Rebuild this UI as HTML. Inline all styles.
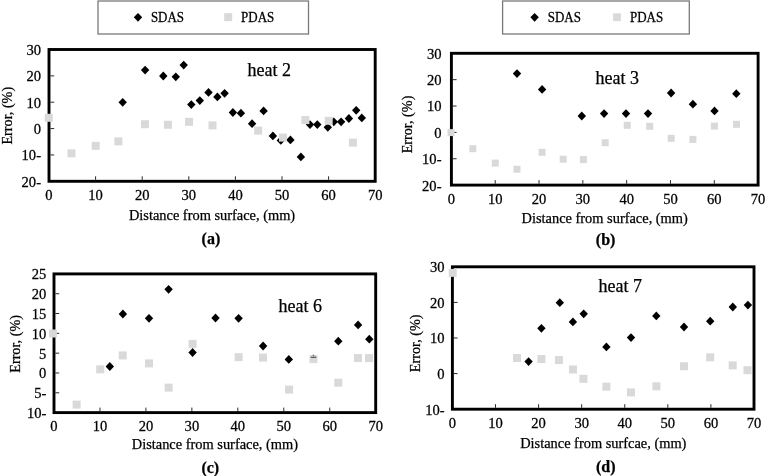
<!DOCTYPE html><html><head><meta charset="utf-8"><title>SDAS / PDAS error</title><style>html,body{margin:0;padding:0;background:#fff;}svg{display:block;}text{font-family:"Liberation Serif", "Times New Roman", serif;fill:#000;stroke:#000;stroke-width:0.25px;}</style></head><body>
<svg width="767" height="476" viewBox="0 0 767 476">
<rect width="767" height="476" fill="#fff"/>
<rect x="98" y="1" width="210.5" height="33" fill="none" stroke="#7a7a7a" stroke-width="1.3"/><g fill="#000"><path d="M138 12.9L142.2 17.3L138 21.7L133.8 17.3Z"/></g><text transform="translate(150.9 21.7) scale(1 1.085)" font-size="13">SDAS</text><g fill="#d9d9d9"><rect x="224.2" y="13.2" width="8" height="8"/></g><text transform="translate(241.1 21.7) scale(1 1.085)" font-size="13">PDAS</text>
<rect x="502.6" y="1" width="186.7" height="33" fill="none" stroke="#7a7a7a" stroke-width="1.3"/><g fill="#000"><path d="M534.6 12.9L538.8 17.3L534.6 21.7L530.4 17.3Z"/></g><text transform="translate(547.7 21.7) scale(1 1.085)" font-size="13">SDAS</text><g fill="#d9d9d9"><rect x="613.1" y="13.3" width="7.8" height="7.8"/></g><text transform="translate(630 21.7) scale(1 1.085)" font-size="13">PDAS</text>
<path d="M50.4 154.94h3.8M50.4 128.58h3.8M50.4 102.22h3.8M50.4 75.86h3.8M95.6 179.9v-3.6M142.2 179.9v-3.6M188.8 179.9v-3.6M235.4 179.9v-3.6M282 179.9v-3.6M328.6 179.9v-3.6" stroke="#2a2a2a" stroke-width="1" fill="none"/><rect x="49" y="49.5" width="326.2" height="131.8" fill="none" stroke="#000" stroke-width="2.9"/><text transform="translate(41 186.75) scale(1.04 1)" font-size="14" text-anchor="end">20-</text><text transform="translate(41 160.39) scale(1.04 1)" font-size="14" text-anchor="end">10-</text><text transform="translate(41 134.03) scale(1.04 1)" font-size="14" text-anchor="end">0</text><text transform="translate(41 107.67) scale(1.04 1)" font-size="14" text-anchor="end">10</text><text transform="translate(41 81.31) scale(1.04 1)" font-size="14" text-anchor="end">20</text><text transform="translate(41 54.95) scale(1.04 1)" font-size="14" text-anchor="end">30</text><text transform="translate(49 199.8) scale(1.04 1)" font-size="14" text-anchor="middle">0</text><text transform="translate(95.6 199.8) scale(1.04 1)" font-size="14" text-anchor="middle">10</text><text transform="translate(142.2 199.8) scale(1.04 1)" font-size="14" text-anchor="middle">20</text><text transform="translate(188.8 199.8) scale(1.04 1)" font-size="14" text-anchor="middle">30</text><text transform="translate(235.4 199.8) scale(1.04 1)" font-size="14" text-anchor="middle">40</text><text transform="translate(282 199.8) scale(1.04 1)" font-size="14" text-anchor="middle">50</text><text transform="translate(328.6 199.8) scale(1.04 1)" font-size="14" text-anchor="middle">60</text><text transform="translate(375.2 199.8) scale(1.04 1)" font-size="14" text-anchor="middle">70</text><text x="212.05" y="219.8" font-size="14.4" text-anchor="middle">Distance from surface, (mm)</text><text transform="translate(11.9 115.7) rotate(-90)" font-size="14.2" text-anchor="middle">Error, (%)</text><text x="247.5" y="76.1" font-size="18">heat 2</text><text x="201.6" y="243.5" font-size="16" font-weight="bold">(a)</text><g fill="#000"><path d="M122.7 97.9L126.9 102.3L122.7 106.7L118.5 102.3Z"/><path d="M145.1 65.7L149.3 70.1L145.1 74.5L140.9 70.1Z"/><path d="M163.3 71.6L167.5 76L163.3 80.4L159.1 76Z"/><path d="M175.8 72.4L180 76.8L175.8 81.2L171.6 76.8Z"/><path d="M183.7 60.7L187.9 65.1L183.7 69.5L179.5 65.1Z"/><path d="M191.3 100.2L195.5 104.6L191.3 109L187.1 104.6Z"/><path d="M199.8 96.2L204 100.6L199.8 105L195.6 100.6Z"/><path d="M208.5 88L212.7 92.4L208.5 96.8L204.3 92.4Z"/><path d="M217.4 92.5L221.6 96.9L217.4 101.3L213.2 96.9Z"/><path d="M224.6 88.9L228.8 93.3L224.6 97.7L220.4 93.3Z"/><path d="M232.9 108.1L237.1 112.5L232.9 116.9L228.7 112.5Z"/><path d="M240.9 108.8L245.1 113.2L240.9 117.6L236.7 113.2Z"/><path d="M252.1 119.3L256.3 123.7L252.1 128.1L247.9 123.7Z"/><path d="M263.6 106.5L267.8 110.9L263.6 115.3L259.4 110.9Z"/><path d="M272.9 131.5L277.1 135.9L272.9 140.3L268.7 135.9Z"/><path d="M280.8 136L285 140.4L280.8 144.8L276.6 140.4Z"/><path d="M290.4 135.5L294.6 139.9L290.4 144.3L286.2 139.9Z"/><path d="M300.9 152.5L305.1 156.9L300.9 161.3L296.7 156.9Z"/><path d="M310 120.2L314.2 124.6L310 129L305.8 124.6Z"/><path d="M317.3 120.2L321.5 124.6L317.3 129L313.1 124.6Z"/><path d="M327.8 122.9L332 127.3L327.8 131.7L323.6 127.3Z"/><path d="M333.8 117.4L338 121.8L333.8 126.2L329.6 121.8Z"/><path d="M341.1 117.4L345.3 121.8L341.1 126.2L336.9 121.8Z"/><path d="M348.9 114.1L353.1 118.5L348.9 122.9L344.7 118.5Z"/><path d="M356.2 105.9L360.4 110.3L356.2 114.7L352 110.3Z"/><path d="M361.8 113.5L366 117.9L361.8 122.3L357.6 117.9Z"/></g><g fill="#d9d9d9"><rect x="44.7" y="113.8" width="8" height="8"/><rect x="67.5" y="149.3" width="8" height="8"/><rect x="91.7" y="141.8" width="8" height="8"/><rect x="114.4" y="137.4" width="8" height="8"/><rect x="141" y="120.2" width="8" height="8"/><rect x="163.9" y="120.8" width="8" height="8"/><rect x="185" y="117.8" width="8" height="8"/><rect x="208.5" y="121.4" width="8" height="8"/><rect x="254.2" y="126.6" width="8" height="8"/><rect x="279" y="133.6" width="8" height="8"/><rect x="301.4" y="116.1" width="8" height="8"/><rect x="324.7" y="116.8" width="8" height="8"/><rect x="349" y="138.6" width="8" height="8"/></g>
<path d="M452.8 158.74h3.8M452.8 132.38h3.8M452.8 106.02h3.8M452.8 79.66h3.8M495.21 183.7v-3.6M539.03 183.7v-3.6M582.84 183.7v-3.6M626.66 183.7v-3.6M670.47 183.7v-3.6M714.29 183.7v-3.6" stroke="#2a2a2a" stroke-width="1" fill="none"/><rect x="451.4" y="53.3" width="306.7" height="131.8" fill="none" stroke="#000" stroke-width="2.9"/><text transform="translate(441.5 190.55) scale(1.04 1)" font-size="14" text-anchor="end">20-</text><text transform="translate(441.5 164.19) scale(1.04 1)" font-size="14" text-anchor="end">10-</text><text transform="translate(441.5 137.83) scale(1.04 1)" font-size="14" text-anchor="end">0</text><text transform="translate(441.5 111.47) scale(1.04 1)" font-size="14" text-anchor="end">10</text><text transform="translate(441.5 85.11) scale(1.04 1)" font-size="14" text-anchor="end">20</text><text transform="translate(441.5 58.75) scale(1.04 1)" font-size="14" text-anchor="end">30</text><text transform="translate(451.4 203.6) scale(1.04 1)" font-size="14" text-anchor="middle">0</text><text transform="translate(495.21 203.6) scale(1.04 1)" font-size="14" text-anchor="middle">10</text><text transform="translate(539.03 203.6) scale(1.04 1)" font-size="14" text-anchor="middle">20</text><text transform="translate(582.84 203.6) scale(1.04 1)" font-size="14" text-anchor="middle">30</text><text transform="translate(626.66 203.6) scale(1.04 1)" font-size="14" text-anchor="middle">40</text><text transform="translate(670.47 203.6) scale(1.04 1)" font-size="14" text-anchor="middle">50</text><text transform="translate(714.29 203.6) scale(1.04 1)" font-size="14" text-anchor="middle">60</text><text transform="translate(758.1 203.6) scale(1.04 1)" font-size="14" text-anchor="middle">70</text><text x="604.7" y="223.3" font-size="14.4" text-anchor="middle">Distance from surface, (mm)</text><text transform="translate(412.2 124.5) rotate(-90)" font-size="14.2" text-anchor="middle">Error, (%)</text><text x="595.6" y="84.1" font-size="18">heat 3</text><text x="595.8" y="244.5" font-size="16" font-weight="bold">(b)</text><g fill="#000"><path d="M517 69.2L521.2 73.6L517 78L512.8 73.6Z"/><path d="M542.1 85L546.3 89.4L542.1 93.8L537.9 89.4Z"/><path d="M581.8 111.6L586 116L581.8 120.4L577.6 116Z"/><path d="M604.1 109.2L608.3 113.6L604.1 118L599.9 113.6Z"/><path d="M626 109.2L630.2 113.6L626 118L621.8 113.6Z"/><path d="M648 109.2L652.2 113.6L648 118L643.8 113.6Z"/><path d="M671.1 88.6L675.3 93L671.1 97.4L666.9 93Z"/><path d="M692.9 99.8L697.1 104.2L692.9 108.6L688.7 104.2Z"/><path d="M714.5 106.5L718.7 110.9L714.5 115.3L710.3 110.9Z"/><path d="M736.3 89.3L740.5 93.7L736.3 98.1L732.1 93.7Z"/></g><g fill="#d9d9d9"><rect x="447.5" y="129.1" width="7" height="7"/><rect x="469.3" y="145.2" width="7" height="7"/><rect x="491.8" y="159.6" width="7" height="7"/><rect x="513.5" y="165.7" width="7" height="7"/><rect x="538.6" y="148.8" width="7" height="7"/><rect x="559.7" y="155.7" width="7" height="7"/><rect x="579.9" y="156.1" width="7" height="7"/><rect x="601.7" y="139.2" width="7" height="7"/><rect x="623.7" y="121.8" width="7" height="7"/><rect x="646.2" y="122.8" width="7" height="7"/><rect x="667.7" y="134.8" width="7" height="7"/><rect x="689.4" y="135.9" width="7" height="7"/><rect x="710.9" y="122.6" width="7" height="7"/><rect x="733" y="120.8" width="7" height="7"/></g>
<path d="M55.4 392.79h3.8M55.4 372.97h3.8M55.4 353.16h3.8M55.4 333.34h3.8M55.4 313.53h3.8M55.4 293.71h3.8M99.96 411.2v-3.6M145.91 411.2v-3.6M191.87 411.2v-3.6M237.83 411.2v-3.6M283.79 411.2v-3.6M329.74 411.2v-3.6" stroke="#2a2a2a" stroke-width="1" fill="none"/><rect x="54" y="273.9" width="321.7" height="138.7" fill="none" stroke="#000" stroke-width="2.9"/><text transform="translate(46.3 418.05) scale(1.04 1)" font-size="14" text-anchor="end">10-</text><text transform="translate(46.3 398.24) scale(1.04 1)" font-size="14" text-anchor="end">5-</text><text transform="translate(46.3 378.42) scale(1.04 1)" font-size="14" text-anchor="end">0</text><text transform="translate(46.3 358.61) scale(1.04 1)" font-size="14" text-anchor="end">5</text><text transform="translate(46.3 338.79) scale(1.04 1)" font-size="14" text-anchor="end">10</text><text transform="translate(46.3 318.98) scale(1.04 1)" font-size="14" text-anchor="end">15</text><text transform="translate(46.3 299.16) scale(1.04 1)" font-size="14" text-anchor="end">20</text><text transform="translate(46.3 279.35) scale(1.04 1)" font-size="14" text-anchor="end">25</text><text transform="translate(54 431.3) scale(1.04 1)" font-size="14" text-anchor="middle">0</text><text transform="translate(99.96 431.3) scale(1.04 1)" font-size="14" text-anchor="middle">10</text><text transform="translate(145.91 431.3) scale(1.04 1)" font-size="14" text-anchor="middle">20</text><text transform="translate(191.87 431.3) scale(1.04 1)" font-size="14" text-anchor="middle">30</text><text transform="translate(237.83 431.3) scale(1.04 1)" font-size="14" text-anchor="middle">40</text><text transform="translate(283.79 431.3) scale(1.04 1)" font-size="14" text-anchor="middle">50</text><text transform="translate(329.74 431.3) scale(1.04 1)" font-size="14" text-anchor="middle">60</text><text transform="translate(375.7 431.3) scale(1.04 1)" font-size="14" text-anchor="middle">70</text><text x="214.9" y="448.7" font-size="14.4" text-anchor="middle">Distance from surface, (mm)</text><text transform="translate(20.2 343.9) rotate(-90)" font-size="14.2" text-anchor="middle">Error, (%)</text><text x="278.6" y="312" font-size="18">heat 6</text><text x="201.4" y="472.5" font-size="16" font-weight="bold">(c)</text><g fill="#000"><path d="M109.8 362.1L114 366.5L109.8 370.9L105.6 366.5Z"/><path d="M122.9 309.6L127.1 314L122.9 318.4L118.7 314Z"/><path d="M149 313.9L153.2 318.3L149 322.7L144.8 318.3Z"/><path d="M168.6 284.9L172.8 289.3L168.6 293.7L164.4 289.3Z"/><path d="M192.6 348.1L196.8 352.5L192.6 356.9L188.4 352.5Z"/><path d="M215.5 313.6L219.7 318L215.5 322.4L211.3 318Z"/><path d="M238.6 313.9L242.8 318.3L238.6 322.7L234.4 318.3Z"/><path d="M263.1 341.6L267.3 346L263.1 350.4L258.9 346Z"/><path d="M288.8 355L293 359.4L288.8 363.8L284.6 359.4Z"/><path d="M338.3 336.8L342.5 341.2L338.3 345.6L334.1 341.2Z"/><path d="M358.1 320.5L362.3 324.9L358.1 329.3L353.9 324.9Z"/><path d="M369.3 334.8L373.5 339.2L369.3 343.6L365.1 339.2Z"/></g><g fill="#d9d9d9"><rect x="48.9" y="329.5" width="8" height="8"/><rect x="72.6" y="400.6" width="8" height="8"/><rect x="96.2" y="365.4" width="8" height="8"/><rect x="118.7" y="351.4" width="8" height="8"/><rect x="145" y="359.4" width="8" height="8"/><rect x="164.6" y="383.6" width="8" height="8"/><rect x="188.6" y="339.9" width="8" height="8"/><rect x="234.6" y="353.2" width="8" height="8"/><rect x="259" y="353.6" width="8" height="8"/><rect x="285.1" y="385.6" width="8" height="8"/><rect x="309.5" y="355.1" width="8" height="8"/><rect x="334.3" y="378.7" width="8" height="8"/><rect x="354" y="354.1" width="8" height="8"/><rect x="365" y="354.1" width="8" height="8"/></g><path d="M310.7 357.3H316.3" stroke="#5a5a5a" stroke-width="1.3"/><circle cx="313.5" cy="355.3" r="0.9" fill="#777"/>
<path d="M453.8 373.6h3.8M453.8 338h3.8M453.8 302.4h3.8M495.49 407.8v-3.6M538.57 407.8v-3.6M581.66 407.8v-3.6M624.74 407.8v-3.6M667.83 407.8v-3.6M710.91 407.8v-3.6" stroke="#2a2a2a" stroke-width="1" fill="none"/><rect x="452.4" y="266.8" width="301.6" height="142.4" fill="none" stroke="#000" stroke-width="2.9"/><text transform="translate(444.6 414.65) scale(1.04 1)" font-size="14" text-anchor="end">10-</text><text transform="translate(444.6 379.05) scale(1.04 1)" font-size="14" text-anchor="end">0</text><text transform="translate(444.6 343.45) scale(1.04 1)" font-size="14" text-anchor="end">10</text><text transform="translate(444.6 307.85) scale(1.04 1)" font-size="14" text-anchor="end">20</text><text transform="translate(444.6 272.25) scale(1.04 1)" font-size="14" text-anchor="end">30</text><text transform="translate(452.4 427.6) scale(1.04 1)" font-size="14" text-anchor="middle">0</text><text transform="translate(495.49 427.6) scale(1.04 1)" font-size="14" text-anchor="middle">10</text><text transform="translate(538.57 427.6) scale(1.04 1)" font-size="14" text-anchor="middle">20</text><text transform="translate(581.66 427.6) scale(1.04 1)" font-size="14" text-anchor="middle">30</text><text transform="translate(624.74 427.6) scale(1.04 1)" font-size="14" text-anchor="middle">40</text><text transform="translate(667.83 427.6) scale(1.04 1)" font-size="14" text-anchor="middle">50</text><text transform="translate(710.91 427.6) scale(1.04 1)" font-size="14" text-anchor="middle">60</text><text transform="translate(754 427.6) scale(1.04 1)" font-size="14" text-anchor="middle">70</text><text x="603.3" y="447.8" font-size="14.4" text-anchor="middle">Distance from surfcae, (mm)</text><text transform="translate(419.8 343.3) rotate(-90)" font-size="14.2" text-anchor="middle">Error, (%)</text><text x="598.5" y="291.5" font-size="18">heat 7</text><text x="596" y="471.8" font-size="16" font-weight="bold">(d)</text><g fill="#000"><path d="M528.6 357.2L532.8 361.6L528.6 366L524.4 361.6Z"/><path d="M541.4 323.9L545.6 328.3L541.4 332.7L537.2 328.3Z"/><path d="M559.8 298.3L564 302.7L559.8 307.1L555.6 302.7Z"/><path d="M572.9 317.5L577.1 321.9L572.9 326.3L568.7 321.9Z"/><path d="M583.7 309.4L587.9 313.8L583.7 318.2L579.5 313.8Z"/><path d="M606.4 342.5L610.6 346.9L606.4 351.3L602.2 346.9Z"/><path d="M631 333.2L635.2 337.6L631 342L626.8 337.6Z"/><path d="M656.3 311.5L660.5 315.9L656.3 320.3L652.1 315.9Z"/><path d="M684 322.6L688.2 327L684 331.4L679.8 327Z"/><path d="M710.2 316.8L714.4 321.2L710.2 325.6L706 321.2Z"/><path d="M732.8 302.6L737 307L732.8 311.4L728.6 307Z"/><path d="M747.9 300.7L752.1 305.1L747.9 309.5L743.7 305.1Z"/></g><g fill="#d9d9d9"><rect x="448.7" y="268.9" width="8" height="8"/><rect x="513" y="354" width="8" height="8"/><rect x="537.4" y="355.1" width="8" height="8"/><rect x="555" y="356.1" width="8" height="8"/><rect x="569" y="365.5" width="8" height="8"/><rect x="579.4" y="374.8" width="8" height="8"/><rect x="602.4" y="382.7" width="8" height="8"/><rect x="627" y="388.4" width="8" height="8"/><rect x="652.4" y="382.3" width="8" height="8"/><rect x="680" y="362.3" width="8" height="8"/><rect x="706.2" y="353.3" width="8" height="8"/><rect x="728.7" y="361.4" width="8" height="8"/><rect x="743.5" y="366.2" width="8" height="8"/></g>
</svg></body></html>
